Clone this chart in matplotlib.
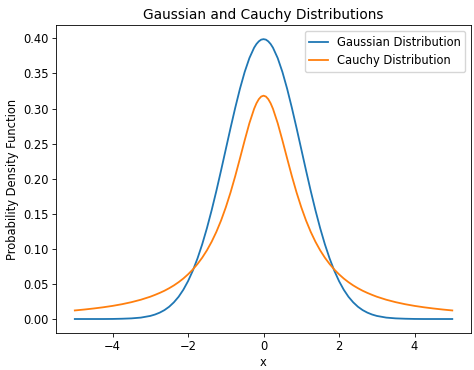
import matplotlib
matplotlib.use("Agg")
import matplotlib.pyplot as plt

# values
x_vals = [-5.0, -4.75, -4.5, -4.25, -4.0, -3.75, -3.5, -3.25,
          -3.0, -2.875, -2.75, -2.625, -2.5, -2.375, -2.25, -2.125,
          -2.0, -1.875, -1.75, -1.625, -1.5, -1.375, -1.25, -1.125,
          -1.0, -0.875, -0.75, -0.625, -0.5, -0.375, -0.25, -0.1875,
          -0.125, -0.0625, 0.0, 0.0625, 0.125, 0.1875,
          0.25, 0.375, 0.5, 0.625, 0.75, 0.875, 1.0,
          1.125, 1.25, 1.375, 1.5, 1.625, 1.75, 1.875, 2.0,
          2.125, 2.25, 2.375, 2.5, 2.625, 2.75, 2.875, 3.0,
          3.25, 3.5, 3.75, 4.0, 4.25, 4.5, 4.75, 5.0]

gauss_vals = [0.0, 0.0, 0.0, 0.0, 0.0001, 0.0004, 0.0009, 0.0020,
              0.0044, 0.0064, 0.0091, 0.0127, 0.0175, 0.0238, 0.0317, 0.0417,
              0.0540, 0.0688, 0.0863, 0.1065, 0.1295, 0.1550, 0.1826, 0.2119,
              0.2420, 0.2721, 0.3011, 0.3282, 0.3521, 0.3719, 0.3867, 0.3920,
              0.3958, 0.3982, 0.3989, 0.3982, 0.3958, 0.3920,
              0.3867, 0.3719, 0.3521, 0.3282, 0.3011, 0.2721, 0.2420,
              0.2119, 0.1826, 0.1550, 0.1295, 0.1065, 0.0863, 0.0688, 0.0540,
              0.0417, 0.0317, 0.0238, 0.0175, 0.0127, 0.0091, 0.0064, 0.0044,
              0.0020, 0.0009, 0.0004, 0.0001, 0.0, 0.0, 0.0, 0.0]

cauchy_vals = [0.0122, 0.0135, 0.0150, 0.0167, 0.0187, 0.0211, 0.0240, 0.0275,
               0.0318, 0.0344, 0.0372, 0.0403, 0.0439, 0.0479, 0.0525, 0.0577,
               0.0637, 0.0705, 0.0784, 0.0874, 0.0979, 0.1101, 0.1242, 0.1405,
               0.1592, 0.1803, 0.2037, 0.2289, 0.2546, 0.2791, 0.2996, 0.3075,
               0.3134, 0.3171, 0.3183, 0.3171, 0.3134, 0.3075,
               0.2996, 0.2791, 0.2546, 0.2289, 0.2037, 0.1803, 0.1592,
               0.1405, 0.1242, 0.1101, 0.0979, 0.0874, 0.0784, 0.0705, 0.0637,
               0.0577, 0.0525, 0.0479, 0.0439, 0.0403, 0.0372, 0.0344, 0.0318,
               0.0275, 0.0240, 0.0211, 0.0187, 0.0167, 0.0150, 0.0135, 0.0122]

fs = 8.3
fig = plt.figure(figsize=(4.74, 3.70), dpi=100)
ax = fig.add_axes([0.118, 0.10, 0.876, 0.832])

ax.plot(x_vals, gauss_vals, color="#1f77b4", lw=1.3, label="Gaussian Distribution")
ax.plot(x_vals, cauchy_vals, color="#ff7f0e", lw=1.3, label="Cauchy Distribution")

ax.set_title("Gaussian and Cauchy Distributions", fontsize=9.9, pad=4.5)
ax.set_xlabel("x", fontsize=fs, labelpad=2)
ax.set_ylabel("Probability Density Function", fontsize=fs, labelpad=3)
ax.tick_params(labelsize=fs, length=2.6, width=0.6, pad=2.5)
ax.set_yticks([0.0, 0.05, 0.10, 0.15, 0.20, 0.25, 0.30, 0.35, 0.40])
ax.set_yticklabels(["0.00", "0.05", "0.10", "0.15", "0.20", "0.25", "0.30", "0.35", "0.40"])
for s in ax.spines.values():
    s.set_linewidth(0.6)
ax.legend(loc="upper right", fontsize=fs, handlelength=1.6)

fig.savefig("out.png", dpi=100)
